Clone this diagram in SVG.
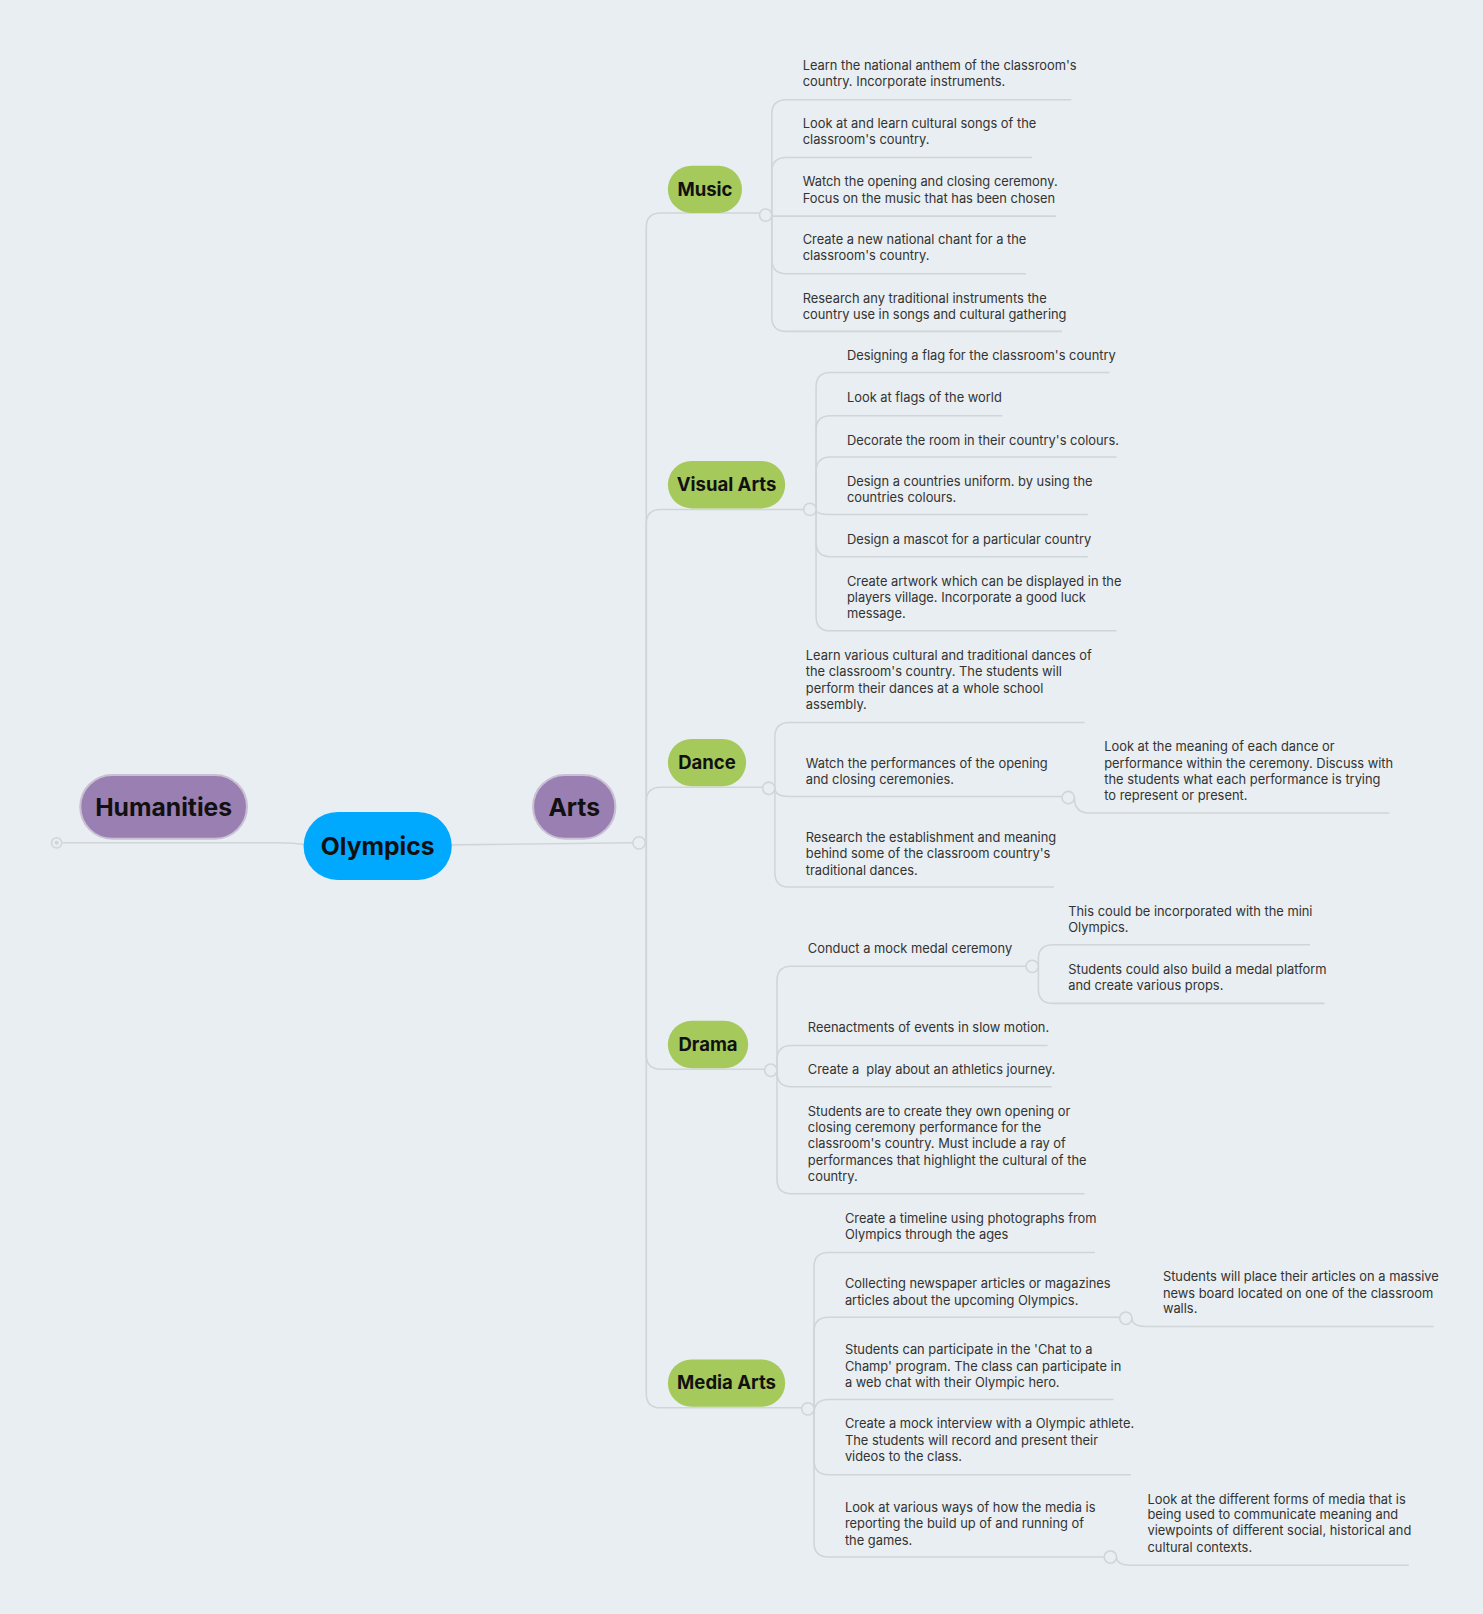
<svg xmlns="http://www.w3.org/2000/svg" width="1483" height="1614" viewBox="0 0 1483 1614">
<style>
.c{fill:none;stroke:#d0d5d8;stroke-width:1.5}
.dot{fill:#e8eef1;stroke:#d0d5d8;stroke-width:1.5}
.t{font-family:Inter,"Liberation Sans",sans-serif;font-size:12.5px;fill:#333}
.g{fill:#a5c95b}
.p{fill:#9a7fb3;stroke:#c9c0d3;stroke-width:2}
.gt{font-family:Inter,"Liberation Sans",sans-serif;font-size:18px;font-weight:bold;fill:#111;text-anchor:middle}
.bt{font-family:Inter,"Liberation Sans",sans-serif;font-size:24px;font-weight:bold;fill:#111;text-anchor:middle}
</style>
<rect width="1483" height="1614" fill="#e8eef1"/>
<g transform="scale(1.0291)">
<g id="connectors">
<path class="c" d="M61,819 H270 Q285,819 300,821"/>
<path class="c" d="M439,821 L615,819"/>
<path class="c" d="M628,819 V221 Q628,207 642,207 H738"/>
<path class="c" d="M628,819 V509 Q628,495 642,495 H781"/>
<path class="c" d="M628,819 V779 Q628,765 642,765 H741"/>
<path class="c" d="M628,819 V1025 Q628,1039 642,1039 H743"/>
<path class="c" d="M628,819 V1354 Q628,1368 642,1368 H779"/>
<!-- Music -->
<path class="c" d="M750,209 V111 Q750,97 764,97 H1041"/>
<path class="c" d="M750,209 V167 Q750,153 764,153 H1003"/>
<path class="c" d="M750,209 V210 H1026"/>
<path class="c" d="M750,209 V252 Q750,266 764,266 H997"/>
<path class="c" d="M750,209 V308 Q750,322 764,322 H1032"/>
<!-- Visual -->
<path class="c" d="M793,495 V376 Q793,362 807,362 H1078"/>
<path class="c" d="M793,495 V418 Q793,404 807,404 H974"/>
<path class="c" d="M793,495 V458 Q793,444 807,444 H1085"/>
<path class="c" d="M793,495 Q793,500 807,500 H1057"/>
<path class="c" d="M793,495 V527 Q793,541 807,541 H1057"/>
<path class="c" d="M793,495 V599 Q793,613 807,613 H1085"/>
<!-- Dance -->
<path class="c" d="M753,766 V716 Q753,702 767,702 H1054"/>
<path class="c" d="M753,766 Q753,774 767,774 H1032"/>
<path class="c" d="M753,766 V848 Q753,862 767,862 H1024"/>
<path class="c" d="M1044,775 Q1044,790 1058,790 H1350"/>
<!-- Drama -->
<path class="c" d="M755,1040 V953 Q755,939 769,939 H997"/>
<path class="c" d="M755,1040 V1030 Q755,1016 769,1016 H1018"/>
<path class="c" d="M755,1040 V1042 Q755,1056 769,1056 H1022"/>
<path class="c" d="M755,1040 V1146 Q755,1160 769,1160 H1054"/>
<path class="c" d="M1009,939 V932 Q1009,918 1023,918 H1273"/>
<path class="c" d="M1009,939 V961 Q1009,975 1023,975 H1287"/>
<!-- Media -->
<path class="c" d="M791,1369 V1231 Q791,1217 805,1217 H1064"/>
<path class="c" d="M791,1369 V1294 Q791,1280 805,1280 H1088"/>
<path class="c" d="M791,1369 V1374 Q791,1360 805,1360 H1082"/>
<path class="c" d="M791,1369 V1419 Q791,1433 805,1433 H1099"/>
<path class="c" d="M791,1369 V1499 Q791,1513 805,1513 H1073"/>
<path class="c" d="M1100,1281 Q1100,1289 1114,1289 H1393"/>
<path class="c" d="M1085,1513 Q1085,1521 1099,1521 H1369"/>
<circle class="dot" cx="55" cy="819" r="5"/><circle cx="55" cy="819" r="2" fill="#d0d5d8"/>
<circle class="dot" cx="621" cy="819" r="6"/>
<circle class="dot" cx="744" cy="209" r="6"/>
<circle class="dot" cx="787" cy="495" r="6"/>
<circle class="dot" cx="747" cy="766" r="6"/>
<circle class="dot" cx="1038" cy="775" r="6"/>
<circle class="dot" cx="749" cy="1040" r="6"/>
<circle class="dot" cx="1003" cy="939" r="6"/>
<circle class="dot" cx="785" cy="1369" r="6"/>
<circle class="dot" cx="1094" cy="1281" r="6"/>
<circle class="dot" cx="1079" cy="1513" r="6"/>
</g>
<g id="humanities"><rect class="p" x="78" y="753" width="162" height="62" rx="31"/><text class="bt" x="159" y="793">Humanities</text></g>
<g id="olympics"><rect x="295" y="789" width="144" height="66" rx="33" fill="#00a9fd"/><text class="bt" x="367" y="831">Olympics</text></g>
<g id="arts"><rect class="p" x="518" y="753" width="80" height="62" rx="31"/><text class="bt" x="558" y="793">Arts</text></g>
<g id="music"><rect class="g" x="649" y="161" width="72" height="46" rx="23"/><text class="gt" x="685" y="190">Music</text></g>
<g id="visual-arts"><rect class="g" x="649" y="448" width="114" height="46" rx="23"/><text class="gt" x="706" y="477">Visual Arts</text></g>
<g id="dance"><rect class="g" x="649" y="718" width="76" height="46" rx="23"/><text class="gt" x="687" y="747">Dance</text></g>
<g id="drama"><rect class="g" x="649" y="992" width="78" height="46" rx="23"/><text class="gt" x="688" y="1021">Drama</text></g>
<g id="media-arts"><rect class="g" x="649" y="1321" width="114" height="46" rx="23"/><text class="gt" x="706" y="1350">Media Arts</text></g>
<g id="music-items" class="t">
<text class="t" x="780" y="68">Learn the national anthem of the classroom's</text><text class="t" x="780" y="84">country. Incorporate instruments.</text>
<text class="t" x="780" y="124">Look at and learn cultural songs of the</text><text class="t" x="780" y="140">classroom's country.</text>
<text class="t" x="780" y="181">Watch the opening and closing ceremony.</text><text class="t" x="780" y="197">Focus on the music that has been chosen</text>
<text class="t" x="780" y="237">Create a new national chant for a the</text><text class="t" x="780" y="253">classroom's country.</text>
<text class="t" x="780" y="294">Research any traditional instruments the</text><text class="t" x="780" y="310">country use in songs and cultural gathering</text>
</g>
<g id="visual-items">
<text class="t" x="823" y="350">Designing a flag for the classroom's country</text>
<text class="t" x="823" y="391">Look at flags of the world</text>
<text class="t" x="823" y="432">Decorate the room in their country's colours.</text>
<text class="t" x="823" y="472">Design a countries uniform. by using the</text><text class="t" x="823" y="488">countries colours.</text>
<text class="t" x="823" y="529">Design a mascot for a particular country</text>
<text class="t" x="823" y="569">Create artwork which can be displayed in the</text><text class="t" x="823" y="585">players village. Incorporate a good luck</text><text class="t" x="823" y="601">message.</text>
</g>
<g id="dance-items">
<text class="t" x="783" y="641">Learn various cultural and traditional dances of</text><text class="t" x="783" y="657">the classroom's country. The students will</text><text class="t" x="783" y="673">perform their dances at a whole school</text><text class="t" x="783" y="689">assembly.</text>
<text class="t" x="783" y="746">Watch the performances of the opening</text><text class="t" x="783" y="762">and closing ceremonies.</text>
<text class="t" x="1073" y="730">Look at the meaning of each dance or</text><text class="t" x="1073" y="746">performance within the ceremony. Discuss with</text><text class="t" x="1073" y="762">the students what each performance is trying</text><text class="t" x="1073" y="777">to represent or present.</text>
<text class="t" x="783" y="818">Research the establishment and meaning</text><text class="t" x="783" y="834">behind some of the classroom country's</text><text class="t" x="783" y="850">traditional dances.</text>
</g>
<g id="drama-items">
<text class="t" x="785" y="926">Conduct a mock medal ceremony</text>
<text class="t" x="1038" y="890">This could be incorporated with the mini</text><text class="t" x="1038" y="906">Olympics.</text>
<text class="t" x="1038" y="946">Students could also build a medal platform</text><text class="t" x="1038" y="962">and create various props.</text>
<text class="t" x="785" y="1003">Reenactments of events in slow motion.</text>
<text class="t" x="785" y="1044" xml:space="preserve">Create a  play about an athletics journey.</text>
<text class="t" x="785" y="1084">Students are to create they own opening or</text><text class="t" x="785" y="1100">closing ceremony performance for the</text><text class="t" x="785" y="1116">classroom's country. Must include a ray of</text><text class="t" x="785" y="1132">performances that highlight the cultural of the</text><text class="t" x="785" y="1148">country.</text>
</g>
<g id="media-items">
<text class="t" x="821" y="1188">Create a timeline using photographs from</text><text class="t" x="821" y="1204">Olympics through the ages</text>
<text class="t" x="821" y="1252">Collecting newspaper articles or magazines</text><text class="t" x="821" y="1268">articles about the upcoming Olympics.</text>
<text class="t" x="1130" y="1245">Students will place their articles on a massive</text><text class="t" x="1130" y="1261">news board located on one of the classroom</text><text class="t" x="1130" y="1276">walls.</text>
<text class="t" x="821" y="1316">Students can participate in the 'Chat to a</text><text class="t" x="821" y="1332">Champ' program. The class can participate in</text><text class="t" x="821" y="1348">a web chat with their Olympic hero.</text>
<text class="t" x="821" y="1388">Create a mock interview with a Olympic athlete.</text><text class="t" x="821" y="1404">The students will record and present their</text><text class="t" x="821" y="1420">videos to the class.</text>
<text class="t" x="821" y="1469">Look at various ways of how the media is</text><text class="t" x="821" y="1485">reporting the build up of and running of</text><text class="t" x="821" y="1501">the games.</text>
<text class="t" x="1115" y="1461">Look at the different forms of media that is</text><text class="t" x="1115" y="1476">being used to communicate meaning and</text><text class="t" x="1115" y="1492">viewpoints of different social, historical and</text><text class="t" x="1115" y="1508">cultural contexts.</text>
</g>
</g>
</svg>
